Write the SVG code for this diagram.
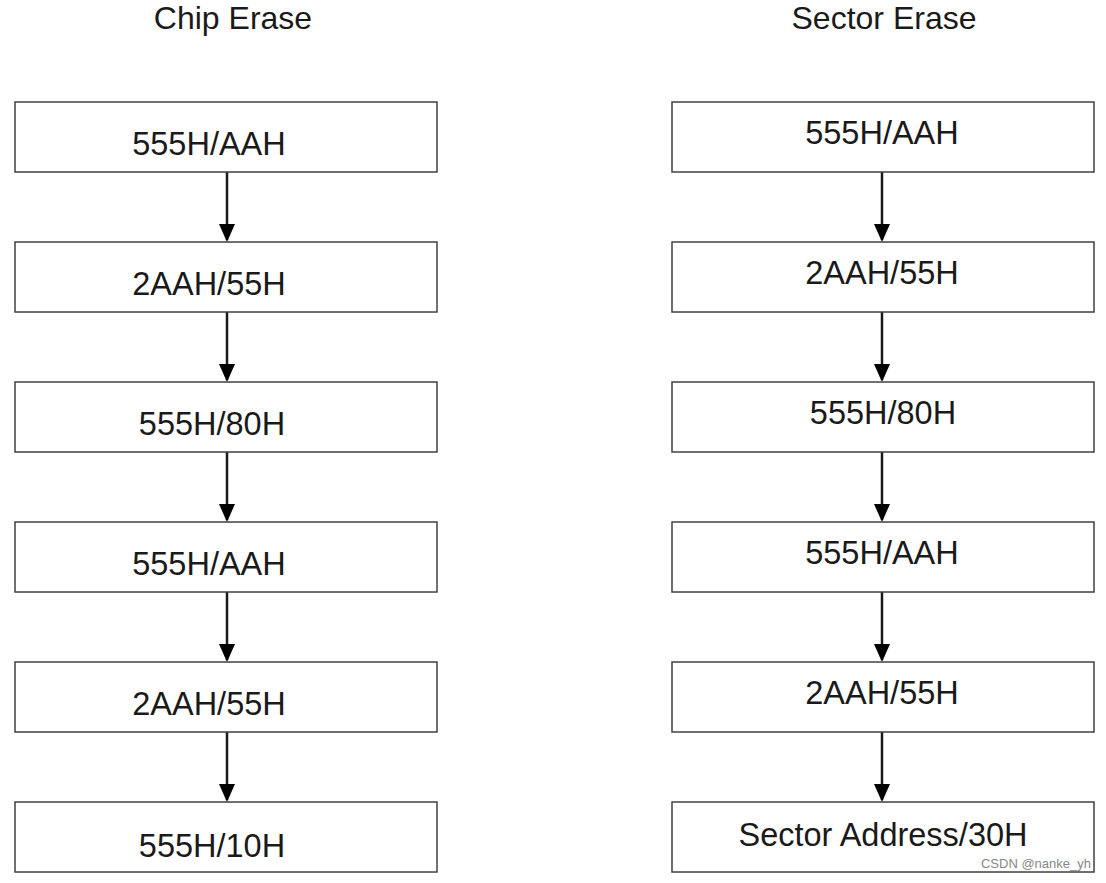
<svg xmlns="http://www.w3.org/2000/svg" width="1106" height="883" viewBox="0 0 1106 883">
<style>
rect.b{fill:#fff;stroke:#404040;stroke-width:1.5}
text{font-family:Arial,"Liberation Sans",sans-serif;fill:#1a1a1a}
.t{font-size:32.5px;text-anchor:middle}
.h{font-size:32px;text-anchor:middle}
</style>
<rect width="1106" height="883" fill="#fff"/>
<text class="h" x="233" y="29">Chip Erase</text>
<text class="h" x="884" y="29">Sector Erase</text>
<g id="connectors">
<path d="M227,172V240M227,312V380M227,452V520M227,592V660M227,732V800M882,172V240M882,312V380M882,452V520M882,592V660M882,732V800" stroke="#1a1a1a" stroke-width="2.5" fill="none"/>
<g fill="#000"><path d="M219,224h16l-8,18z"/><path d="M219,364h16l-8,18z"/><path d="M219,504h16l-8,18z"/><path d="M219,644h16l-8,18z"/><path d="M219,784h16l-8,18z"/>
<path d="M874,224h16l-8,18z"/><path d="M874,364h16l-8,18z"/><path d="M874,504h16l-8,18z"/><path d="M874,644h16l-8,18z"/><path d="M874,784h16l-8,18z"/></g>
</g>
<g id="l1"><rect class="b" x="15" y="102" width="422" height="70"/><text class="t" x="209" y="155">555H/AAH</text></g>
<g id="l2"><rect class="b" x="15" y="242" width="422" height="70"/><text class="t" x="209" y="295">2AAH/55H</text></g>
<g id="l3"><rect class="b" x="15" y="382" width="422" height="70"/><text class="t" x="212" y="435">555H/80H</text></g>
<g id="l4"><rect class="b" x="15" y="522" width="422" height="70"/><text class="t" x="209" y="575">555H/AAH</text></g>
<g id="l5"><rect class="b" x="15" y="662" width="422" height="70"/><text class="t" x="209" y="715">2AAH/55H</text></g>
<g id="l6"><rect class="b" x="15" y="802" width="422" height="70"/><text class="t" x="212" y="857">555H/10H</text></g>
<g id="r1"><rect class="b" x="672" y="102" width="422" height="70"/><text class="t" x="882" y="144">555H/AAH</text></g>
<g id="r2"><rect class="b" x="672" y="242" width="422" height="70"/><text class="t" x="882" y="284">2AAH/55H</text></g>
<g id="r3"><rect class="b" x="672" y="382" width="422" height="70"/><text class="t" x="883" y="424">555H/80H</text></g>
<g id="r4"><rect class="b" x="672" y="522" width="422" height="70"/><text class="t" x="882" y="564">555H/AAH</text></g>
<g id="r5"><rect class="b" x="672" y="662" width="422" height="70"/><text class="t" x="882" y="704">2AAH/55H</text></g>
<g id="r6"><rect class="b" x="672" y="802" width="422" height="70"/><text class="t" x="883" y="846">Sector Address/30H</text></g>
<text x="1091" y="868" font-size="13" text-anchor="end" style="fill:#888">CSDN @nanke_yh</text>
</svg>
